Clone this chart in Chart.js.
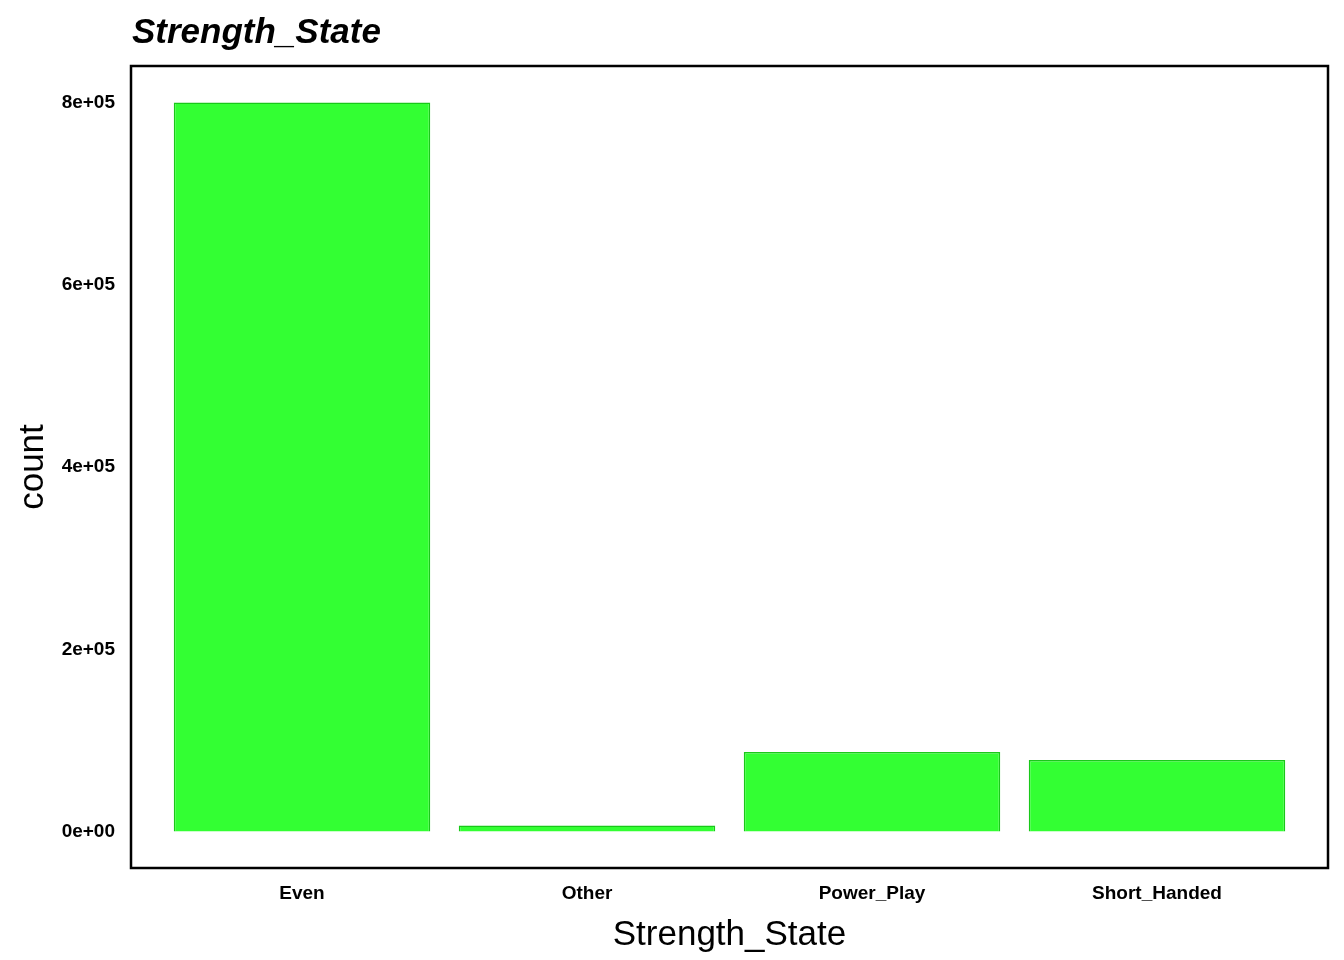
<!DOCTYPE html>
<html><head><meta charset="utf-8">
<script src="https://cdn.jsdelivr.net/npm/chart.js@4"></script>
<style>html,body{margin:0;padding:0;background:#fff}#w{width:1344px;height:960px}</style>
</head><body><div id="w"><canvas id="c"></canvas></div>
<script>
const categories = ["Even", "Other", "Power_Play", "Short_Handed"];
const counts = [800000, 6500, 87300, 78600];
const yTicks = [0, 200000, 400000, 600000, 800000];
const chartTitle = "Strength_State";
const xTitle = "Strength_State";
const yTitle = "count";

const frame = {
  id: 'frame',
  afterDraw(chart) {
    const {ctx, chartArea: a} = chart;
    ctx.save();
    ctx.strokeStyle = '#000'; ctx.lineWidth = 2.5;
    ctx.strokeRect(a.left, a.top, a.right - a.left, a.bottom - a.top);
    ctx.fillStyle = '#000';
    ctx.font = 'italic bold 35px "Liberation Sans", Arial, sans-serif';
    ctx.textBaseline = 'alphabetic'; ctx.textAlign = 'left';
    ctx.fillText(chartTitle, a.left + 1, 43);
    ctx.restore();
  }
};
const fmt = v => { if (v === 0) return '0e+00'; const e = Math.floor(Math.log10(Math.abs(v))); const m = v / Math.pow(10, e); return m + 'e+' + String(e).padStart(2, '0'); };

new Chart(document.getElementById('c'), {
  type: 'bar',
  data: { datasets: [{ data: counts.map((v, i) => ({ x: i, y: v })), backgroundColor: '#33ff33', borderColor: '#19c819', borderWidth: 1.5, barPercentage: 0.9, categoryPercentage: 1 }] },
  options: {
    responsive: true, maintainAspectRatio: false, animation: false,
    layout: { padding: { top: 66, right: 16, left: 0, bottom: 0 } },
    plugins: { legend: { display: false }, tooltip: { enabled: false } },
    scales: {
      x: {
        type: 'linear', min: -0.6, max: 3.6, offset: false,
        grid: { display: false }, border: { display: false },
        afterBuildTicks(s) { s.ticks = categories.map((c, i) => ({ value: i })); },
        ticks: { color: '#000', font: { family: '"Liberation Sans", Arial', size: 19, weight: 'bold' }, padding: 6, callback: v => categories[v] },
        title: { display: true, text: xTitle, color: '#000', font: { family: '"Liberation Sans", Arial', size: 35 }, padding: { top: -12 } },
        afterFit(s) { s.height = 92; }
      },
      y: {
        min: -40000, max: 840000,
        grid: { display: false }, border: { display: false },
        afterBuildTicks(s) { s.ticks = yTicks.map(v => ({ value: v })); },
        ticks: { color: '#000', font: { family: '"Liberation Sans", Arial', size: 19, weight: 'bold' }, padding: 8, callback: v => fmt(v) },
        title: { display: true, text: yTitle, color: '#000', font: { family: '"Liberation Sans", Arial', size: 35 }, padding: { top: 12, bottom: 0 } },
        afterFit(s) { s.width = 131; }
      }
    }
  },
  plugins: [frame]
});
</script></body></html>
